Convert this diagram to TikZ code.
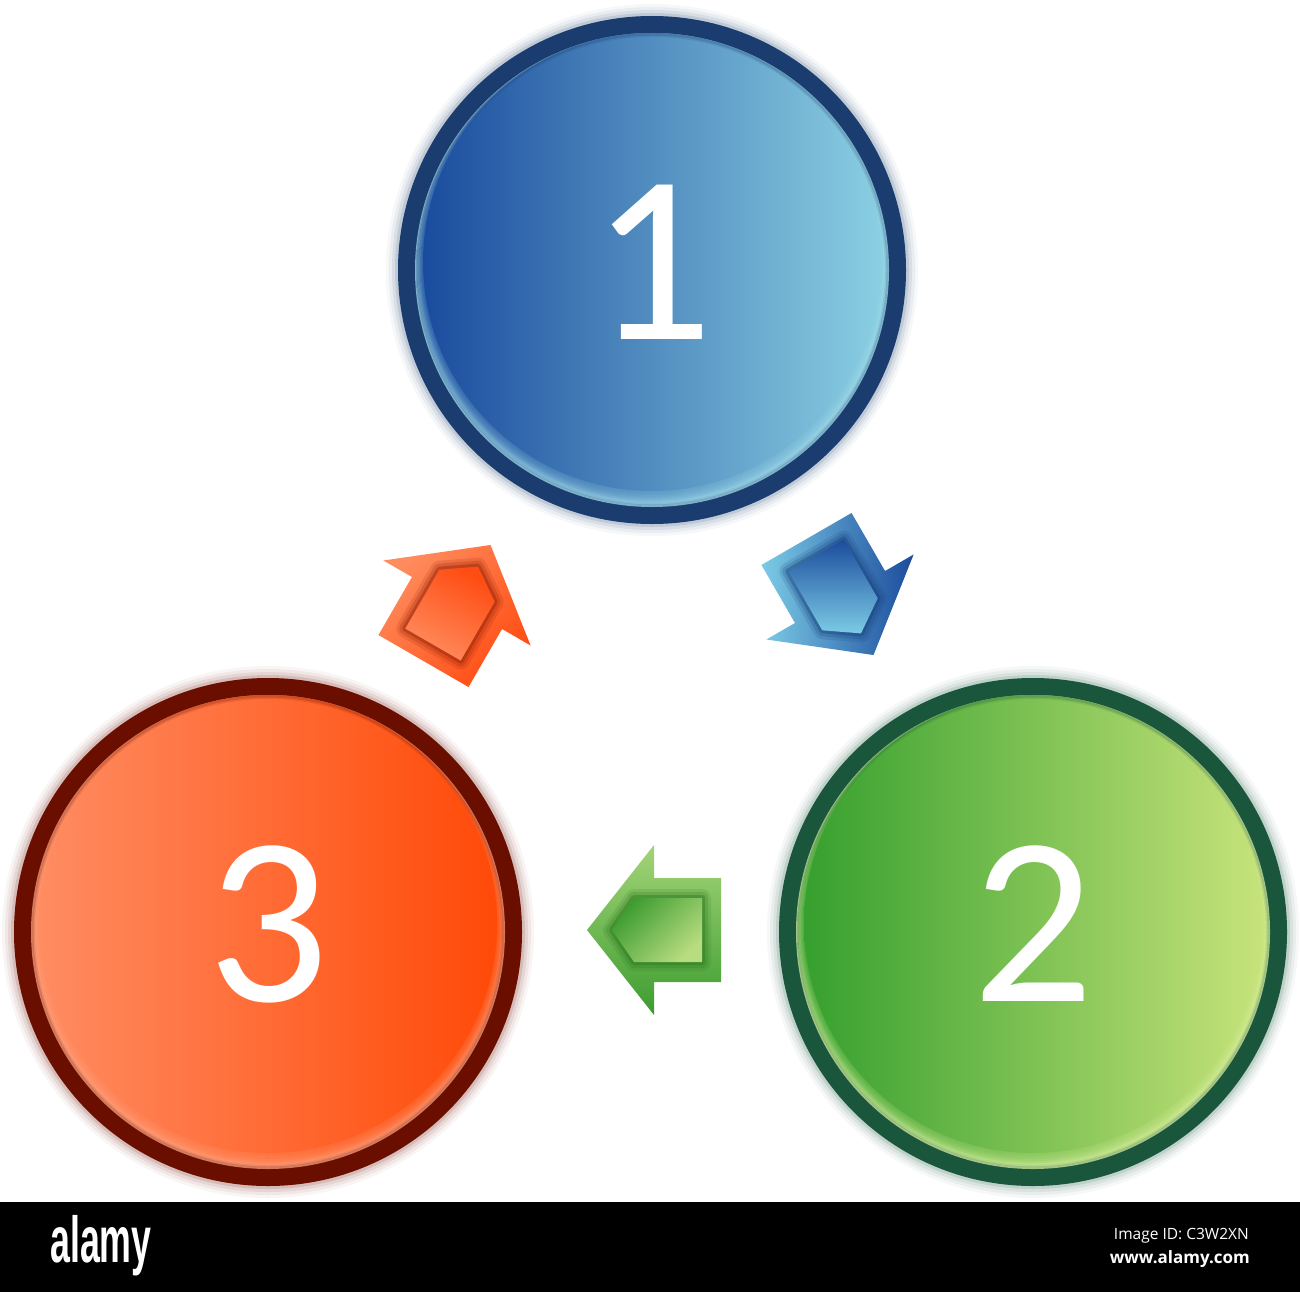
\documentclass[tikz,border=0pt]{standalone}
\usepackage{fontspec}
\setmainfont{Carlito}
\newfontfamily\opensans{Open Sans}
\newfontfamily\libsans{Liberation Sans}
\usetikzlibrary{calc}

\definecolor{bRing}{HTML}{1A3C6E}
\definecolor{bL}{HTML}{1A4C9E}
\definecolor{bR}{HTML}{8ACFE2}
\definecolor{bRim}{HTML}{A8E2EE}
\definecolor{gRing}{HTML}{1A563C}
\definecolor{gL}{HTML}{36A02E}
\definecolor{gR}{HTML}{C6E37A}
\definecolor{gRim}{HTML}{DEF4A4}
\definecolor{oRing}{HTML}{6A0E00}
\definecolor{oL}{HTML}{FF8C62}
\definecolor{oR}{HTML}{FF4A08}
\definecolor{oRim}{HTML}{FFA886}
% arrows
\definecolor{abLight}{HTML}{7CCBE6}
\definecolor{abDark}{HTML}{1B4C9C}
\definecolor{abShadow}{HTML}{143A78}
\definecolor{agLight}{HTML}{A4D478}
\definecolor{agDark}{HTML}{3C9C30}
\definecolor{agInLight}{HTML}{B8DC80}
\definecolor{agShadow}{HTML}{237018}
\definecolor{aoLight}{HTML}{FF8C5E}
\definecolor{aoDark}{HTML}{FF4C12}
\definecolor{aoShadow}{HTML}{8A1800}

\tikzset{
  disc/.style={circle, minimum size=508pt, inner sep=0pt, outer sep=0pt},
  digit/.style={text=white, inner sep=0pt, font=\fontsize{240}{240}\selectfont},
}

% #1 name, #2 x, #3 y, #4 ring, #5 left, #6 right, #7 rim, #8 digit
\newcommand\stagedisc[8]{%
  \coordinate (#1) at (#2,#3);
  \foreach \r/\o in {266/0.04,263/0.06,260/0.08,257/0.12}
    \fill[#4,opacity=\o] (#1) circle (\r pt);
  \node[disc, fill=#4] (#1c) at (#1) {};
  \fill[#7] (#1) circle (237pt);
  \foreach \s/\r in {1/236,2/235,3/234,4/233,5/232,6/231,7/230}
    \shade[left color=#5, right color=#6, opacity=0.22] ($(#1)+(0,-\s)$) circle (\r pt);
  \shade[left color=#5, right color=#6] ($(#1)+(0,-8)$) circle (229pt);
  \foreach \w/\o in {6/0.12,3/0.2}
    \draw[#4, opacity=\o, line width=\w pt] (#1) circle (236pt);
  \node[digit] (#1d) at ($(#1)+(0,-8)$) {#8};
}

% #1 name, #2 x, #3 y, #4 angle, #5 outer shading, #6 inner shading, #7 shadow colour
\newcommand\flowarrow[7]{%
  \coordinate (#1) at (#2,#3);
  \begin{scope}[shift={(#1)}, rotate=#4]
    \shade[#5] (67,0) -- (0,85) -- (0,52) -- (-67,52) -- (-67,-52) -- (0,-52) -- (0,-85) -- cycle;
    \foreach \w/\o in {18/0.14,12/0.2,6/0.35}
      \draw[#7, line width=\w pt, opacity=\o, line join=round]
        (42,0) -- (20,32) -- (-48,32) -- (-48,-32) -- (20,-32) -- cycle;
    \shade[#6] (42,0) -- (20,32) -- (-48,32) -- (-48,-32) -- (20,-32) -- cycle;
  \end{scope}
}

\begin{document}
\begin{tikzpicture}[x=1pt,y=-1pt]
\useasboundingbox (0,0) rectangle (1300,1292);
\fill[white] (0,0) rectangle (1300,1292);

\stagedisc{s1}{652}{270}{bRing}{bL}{bR}{bRim}{1}
\stagedisc{s2}{1033}{932}{gRing}{gL}{gR}{gRim}{2}
\stagedisc{s3}{268}{932}{oRing}{oL}{oR}{oRim}{3}

\flowarrow{a12}{840}{597}{-60}
  {left color=abLight, right color=abDark}
  {top color=abDark, bottom color=abLight}
  {abShadow}
\flowarrow{a23}{654}{930}{180}
  {top color=agLight, bottom color=agDark}
  {top color=agDark, bottom color=agInLight, shading angle=45}
  {agShadow}
\flowarrow{a31}{457}{603}{60}
  {top color=aoLight, bottom color=aoDark, shading angle=45}
  {top color=aoDark, bottom color=aoLight, shading angle=-30}
  {aoShadow}

% bottom bar
\node[fill=black, minimum width=1300pt, minimum height=90pt, inner sep=0pt, outer sep=0pt, anchor=north west] (bar) at (0,1202) {};
\node[anchor=base west, inner sep=0pt, text=white] (logo) at (50,1262)
  {\scalebox{0.55}[1]{\libsans\bfseries\fontsize{65}{65}\selectfont alamy}};
\node[anchor=base east, inner sep=0pt, text=white] (imgid) at (1249,1239)
  {\opensans\fontsize{15.5}{16}\selectfont Image ID: C3W2XN};
\node[anchor=base east, inner sep=0pt, text=white] (www) at (1250,1263)
  {\opensans\bfseries\fontsize{17}{18}\selectfont www.alamy.com};
\end{tikzpicture}
\end{document}
